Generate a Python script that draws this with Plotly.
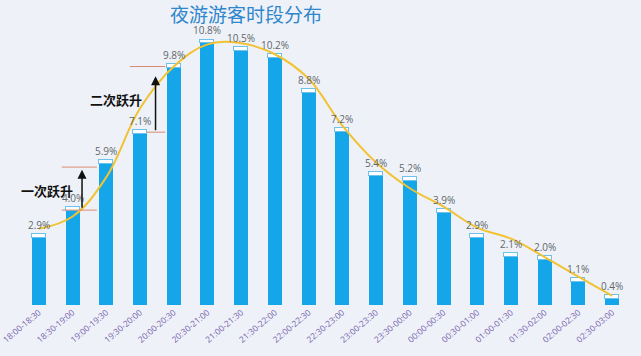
import plotly.graph_objects as go

# ---- data ----
periods = ["18:00-18:30", "18:30-19:00", "19:00-19:30", "19:30-20:00", "20:00-20:30",
           "20:30-21:00", "21:00-21:30", "21:30-22:00", "22:00-22:30", "22:30-23:00",
           "23:00-23:30", "23:30-00:00", "00:00-00:30", "00:30-01:00", "01:00-01:30",
           "01:30-02:00", "02:00-02:30", "02:30-03:00"]
shares = [2.9, 4.0, 5.9, 7.1, 9.8, 10.8, 10.5, 10.2, 8.8, 7.2, 5.4, 5.2, 3.9, 2.9, 2.1, 2.0, 1.1, 0.4]
trend = [3.1, 3.6, 5.2, 8.0, 9.7, 10.6, 10.65, 10.2, 9.2, 7.3, 5.8, 4.75, 4.0, 3.15, 2.7, 1.95, 1.15, 0.37]
labels = [f"{v:.1f}%" for v in shares]

CAP = 0.16
xs = list(range(len(periods)))

fig = go.Figure()
fig.add_trace(go.Bar(x=xs, y=[v - CAP for v in shares], width=0.415,
                     marker=dict(color="#14a6e8", line=dict(width=0)),
                     hoverinfo="skip", showlegend=False))
fig.add_trace(go.Bar(x=xs, y=[CAP] * len(shares), width=0.415,
                     marker=dict(color="#ffffff", line=dict(color="#6cc2ec", width=1)),
                     hoverinfo="skip", showlegend=False))
fig.add_trace(go.Scatter(x=xs, y=trend, mode="lines",
                         line=dict(color="#f1c232", width=2, shape="spline", smoothing=1.1),
                         hoverinfo="skip", showlegend=False))

shapes = []
line_col = "#d98a72"
# first jump
shapes.append(dict(type="line", xref="x", yref="y", x0=0.68, x1=1.72, y0=3.86, y1=3.86,
                   line=dict(color=line_col, width=1)))
shapes.append(dict(type="line", xref="x", yref="y", x0=0.68, x1=1.72, y0=5.61, y1=5.61,
                   line=dict(color=line_col, width=1)))
# second jump
shapes.append(dict(type="line", xref="x", yref="y", x0=3.2, x1=3.75, y0=7.03, y1=7.03,
                   line=dict(color=line_col, width=1)))
shapes.append(dict(type="line", xref="x", yref="y", x0=2.7, x1=3.75, y0=9.7, y1=9.7,
                   line=dict(color=line_col, width=1)))

annotations = []
for x, v, t in zip(xs, shares, labels):
    annotations.append(dict(x=x, y=v, xref="x", yref="y", text=t, showarrow=False,
                            yanchor="bottom", yshift=1, borderpad=0,
                            font=dict(family="Open Sans", size=10, color="#62666b")))

annotations += [
    dict(x=1.28, y=5.5, ax=1.28, ay=3.9, xref="x", yref="y", axref="x", ayref="y",
         showarrow=True, arrowhead=2, arrowsize=1.2, arrowwidth=1.5, arrowcolor="#111111", text=""),
    dict(x=3.46, y=9.3, ax=3.46, ay=7.05, xref="x", yref="y", axref="x", ayref="y",
         showarrow=True, arrowhead=2, arrowsize=1.2, arrowwidth=1.5, arrowcolor="#111111", text=""),
    dict(x=0.25, y=4.67, xref="x", yref="y", text="<b>一次跃升</b>", showarrow=False,
         font=dict(family="Noto Sans CJK SC", size=13, color="#111111")),
    dict(x=2.28, y=8.37, xref="x", yref="y", text="<b>二次跃升</b>", showarrow=False,
         font=dict(family="Noto Sans CJK SC", size=13, color="#111111")),
    dict(x=246 / 641, y=1 - 13 / 356, xref="paper", yref="paper", text="夜游游客时段分布",
         showarrow=False, xanchor="center", yanchor="middle", borderpad=0, borderwidth=0,
         font=dict(family="Noto Sans CJK SC", size=19, color="#2f86cc")),
]

fig.update_layout(
    width=641, height=356,
    margin=dict(l=0, r=0, t=0, b=0),
    barmode="stack", bargap=0,
    paper_bgcolor="#eef2f8", plot_bgcolor="rgba(0,0,0,0)",
    shapes=shapes, annotations=annotations,
    xaxis=dict(range=[-0.5, 17.5], tickvals=xs, ticktext=periods, tickangle=-40,
               tickfont=dict(family="Open Sans", size=8.5, color="#7a62b0"),
               showgrid=False, zeroline=False, showline=False, ticks="",
               automargin=False, domain=[22 / 641, 629 / 641]),
    yaxis=dict(range=[0, 12.0], visible=False, showgrid=False, zeroline=False,
               domain=[51 / 356, 346 / 356]),
)

fig.write_html("out.html", include_plotlyjs=True, config={"displayModeBar": False})
